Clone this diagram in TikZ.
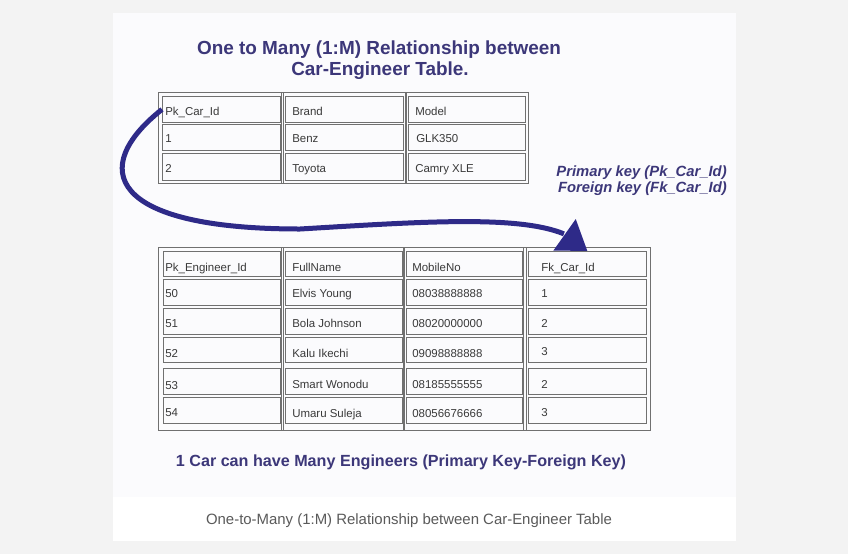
\documentclass[tikz,border=0pt]{standalone}
\usepackage{fontspec}
\setmainfont{Liberation Sans}
\usetikzlibrary{arrows.meta,bending}
\definecolor{pagegrey}{HTML}{F3F3F3}
\definecolor{paneltint}{HTML}{FBFBFD}
\definecolor{gridgrey}{HTML}{707070}
\definecolor{cellink}{HTML}{3A3A3A}
\definecolor{titlenavy}{HTML}{3C3779}
\definecolor{arrownavy}{HTML}{2E2A88}
\definecolor{captiongrey}{HTML}{5A5A5A}
\tikzset{
  frame/.style={draw=gridgrey, line width=0.6pt},
  cell/.style 2 args={draw=gridgrey, line width=0.6pt, inner sep=0pt, anchor=north west,
    minimum width=#1*0.75pt, minimum height=#2*0.75pt},
  celltext/.style={anchor=base west, inner sep=0pt, text=cellink, font=\fontsize{8.6pt}{10pt}\selectfont},
  keyarrow/.style={draw=arrownavy, line width=3.75pt, -{Triangle[length=21pt,width=28pt,flex]}}
}
\begin{document}
\begin{tikzpicture}[x=0.75pt,y=-0.75pt]
\useasboundingbox (0,0) rectangle (848,554);
\fill[pagegrey] (0,0) rectangle (848,554);
\fill[white] (113,13) rectangle (736,541);
\fill[paneltint] (113,13) rectangle (736,497);
% title
\node[anchor=base, inner sep=0pt, text=titlenavy, font=\fontsize{14.2pt}{15pt}\bfseries] (title1) at (379,54) {One to Many (1:M) Relationship between};
\node[anchor=base, inner sep=0pt, text=titlenavy, font=\fontsize{14.2pt}{15pt}\bfseries] (title2) at (380,75) {Car-Engineer Table.};
% car table
\draw[frame] (158,92) rectangle (528,183);
\draw[frame] (158,92) rectangle (281,183);
\draw[frame] (283,92) rectangle (405,183);
\draw[frame] (406,92) rectangle (528,183);
\node[cell={118}{26}] (carh1) at (162,96) {};
\node[cell={118}{26}] (carh2) at (285,96) {};
\node[cell={117}{26}] (carh3) at (408,96) {};
\node[cell={118}{26}] (car11) at (162,124) {};
\node[cell={118}{26}] (car12) at (285,124) {};
\node[cell={117}{26}] (car13) at (408,124) {};
\node[cell={118}{27}] (car21) at (162,153) {};
\node[cell={118}{27}] (car22) at (285,153) {};
\node[cell={117}{27}] (car23) at (408,153) {};
\node[celltext] (tpkcar) at (165,115) {Pk\_Car\_Id};
\node[celltext] (tbrand) at (292,115) {Brand};
\node[celltext] (tmodel) at (415,115) {Model};
\node[celltext] (tcar1) at (165,142) {1};
\node[celltext] (tbenz) at (292,142) {Benz};
\node[celltext] (tglk) at (416,142) {GLK350};
\node[celltext] (tcar2) at (165,172) {2};
\node[celltext] (ttoyota) at (292,172) {Toyota};
\node[celltext] (tcamry) at (415,172) {Camry XLE};
% key note
\node[anchor=base east, inner sep=0pt, text=titlenavy, font=\fontsize{11.1pt}{12pt}\bfseries\itshape] (pknote) at (727,176) {Primary key (Pk\_Car\_Id)};
\node[anchor=base east, inner sep=0pt, text=titlenavy, font=\fontsize{11.1pt}{12pt}\bfseries\itshape] (fknote) at (727,192) {Foreign key (Fk\_Car\_Id)};
% engineer table
\draw[frame] (158,247) rectangle (650,430);
\draw[frame] (158,247) rectangle (281,430);
\draw[frame] (283,247) rectangle (403,430);
\draw[frame] (404,247) rectangle (523,430);
\draw[frame] (526,247) rectangle (650,430);
\node[cell={117}{25}] (engh1) at (163,251) {};
\node[cell={117}{25}] (engh2) at (285,251) {};
\node[cell={116}{25}] (engh3) at (406,251) {};
\node[cell={118}{25}] (engh4) at (528,251) {};
\node[cell={117}{26}] (eng11) at (163,279) {};
\node[cell={117}{26}] (eng12) at (285,279) {};
\node[cell={116}{26}] (eng13) at (406,279) {};
\node[cell={118}{26}] (eng14) at (528,279) {};
\node[cell={117}{26}] (eng21) at (163,308) {};
\node[cell={117}{26}] (eng22) at (285,308) {};
\node[cell={116}{26}] (eng23) at (406,308) {};
\node[cell={118}{26}] (eng24) at (528,308) {};
\node[cell={117}{25}] (eng31) at (163,337) {};
\node[cell={117}{25}] (eng32) at (285,337) {};
\node[cell={116}{25}] (eng33) at (406,337) {};
\node[cell={118}{25}] (eng34) at (528,337) {};
\node[cell={117}{26}] (eng41) at (163,368) {};
\node[cell={117}{26}] (eng42) at (285,368) {};
\node[cell={116}{26}] (eng43) at (406,368) {};
\node[cell={118}{26}] (eng44) at (528,368) {};
\node[cell={117}{26}] (eng51) at (163,397) {};
\node[cell={117}{26}] (eng52) at (285,397) {};
\node[cell={116}{26}] (eng53) at (406,397) {};
\node[cell={118}{26}] (eng54) at (528,397) {};
\node[celltext] (tpkeng) at (165,271) {Pk\_Engineer\_Id};
\node[celltext] (tfull) at (292,271) {FullName};
\node[celltext] (tmobile) at (412,271) {MobileNo};
\node[celltext] (tfkcar) at (541,271) {Fk\_Car\_Id};
\node[celltext] (teng50) at (165,297) {50};
\node[celltext] (telvis) at (292,297) {Elvis Young};
\node[celltext] (tmob50) at (412,297) {08038888888};
\node[celltext] (tfk50) at (541,297) {1};
\node[celltext] (teng51) at (165,327) {51};
\node[celltext] (tbola) at (292,327) {Bola Johnson};
\node[celltext] (tmob51) at (412,327) {08020000000};
\node[celltext] (tfk51) at (541,327) {2};
\node[celltext] (teng52) at (165,357) {52};
\node[celltext] (tkalu) at (292,357) {Kalu Ikechi};
\node[celltext] (tmob52) at (412,357) {09098888888};
\node[celltext] (tfk52) at (541,355) {3};
\node[celltext] (teng53) at (165,389) {53};
\node[celltext] (tsmart) at (292,388) {Smart Wonodu};
\node[celltext] (tmob53) at (412,388) {08185555555};
\node[celltext] (tfk53) at (541,388) {2};
\node[celltext] (teng54) at (165,416) {54};
\node[celltext] (tumaru) at (292,417) {Umaru Suleja};
\node[celltext] (tmob54) at (412,417) {08056676666};
\node[celltext] (tfk54) at (541,416) {3};
% primary key -> foreign key
\draw[keyarrow] (carh1.west) .. controls (88,168) and (108,229) .. (300,229) .. controls (450,220) and (560,212) .. (engh4.north);
% notes
\node[anchor=base, inner sep=0pt, text=titlenavy, font=\fontsize{12.1pt}{14pt}\bfseries] (summary) at (401,466) {1 Car can have Many Engineers (Primary Key-Foreign Key)};
\node[anchor=base, inner sep=0pt, text=captiongrey, font=\fontsize{11.2pt}{12pt}\selectfont] (caption) at (409,524) {One-to-Many (1:M) Relationship between Car-Engineer Table};
\end{tikzpicture}
\end{document}
